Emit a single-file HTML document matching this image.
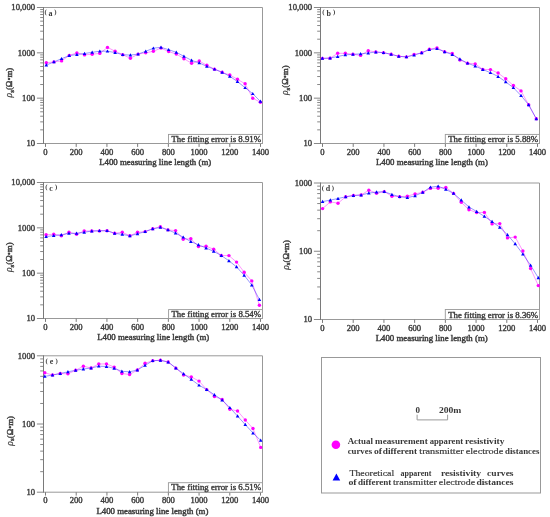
<!DOCTYPE html>
<html><head><meta charset="utf-8"><style>
html,body{margin:0;padding:0;background:#fff;}
svg{display:block;}
text{font-family:'Liberation Serif', 'Times New Roman', serif;fill:#3c3c3c;}
.tk{font-size:8.6px;stroke:#3c3c3c;stroke-width:0.4px;}
.ttl{font-size:8.8px;stroke:#3c3c3c;stroke-width:0.45px;}
.err{font-size:8.6px;fill:#3c3c3c;stroke:#3c3c3c;stroke-width:0.4px;}
.pl{font-size:6.8px;font-weight:bold;fill:#3a3a3a;}
.lg{font-size:9px;font-weight:bold;fill:#383838;}
.nw{font-weight:normal;fill:#3a3a3a;stroke:#3a3a3a;stroke-width:0.2px;}
</style></head><body>
<svg width="550" height="517" viewBox="0 0 550 517">
<rect width="550" height="517" fill="#fff"/>
<path d="M43.5 7.5H262.5V143.5H43.5" fill="none" stroke="#999999" stroke-width="1"/>
<path d="M43.5 7.0V144.0" fill="none" stroke="#7a7a7a" stroke-width="1"/>
<path d="M36.90 143.50H43.5 M40.20 129.85H43.5 M40.20 121.87H43.5 M40.20 116.21H43.5 M40.20 111.81H43.5 M40.20 108.22H43.5 M40.20 105.19H43.5 M40.20 102.56H43.5 M40.20 100.24H43.5 M36.90 98.17H43.5 M40.20 84.52H43.5 M40.20 76.54H43.5 M40.20 70.87H43.5 M40.20 66.48H43.5 M40.20 62.89H43.5 M40.20 59.86H43.5 M40.20 57.23H43.5 M40.20 54.91H43.5 M36.90 52.83H43.5 M40.20 39.19H43.5 M40.20 31.20H43.5 M40.20 25.54H43.5 M40.20 21.15H43.5 M40.20 17.56H43.5 M40.20 14.52H43.5 M40.20 11.89H43.5 M40.20 9.57H43.5 M36.90 7.50H43.5" stroke="#7a7a7a" stroke-width="0.9" fill="none"/>
<text x="35.00" y="146.30" text-anchor="end" class="tk">10</text>
<text x="35.00" y="100.97" text-anchor="end" class="tk">100</text>
<text x="35.00" y="55.63" text-anchor="end" class="tk">1000</text>
<text x="35.00" y="10.30" text-anchor="end" class="tk">10,000</text>
<text x="45.50" y="154.50" text-anchor="middle" class="tk">0</text>
<text x="76.21" y="154.50" text-anchor="middle" class="tk">200</text>
<text x="106.93" y="154.50" text-anchor="middle" class="tk">400</text>
<text x="137.64" y="154.50" text-anchor="middle" class="tk">600</text>
<text x="168.36" y="154.50" text-anchor="middle" class="tk">800</text>
<text x="199.07" y="154.50" text-anchor="middle" class="tk">1000</text>
<text x="229.79" y="154.50" text-anchor="middle" class="tk">1200</text>
<text x="260.50" y="154.50" text-anchor="middle" class="tk">1400</text>
<path d="M45.50 143.5V146.90 M76.21 143.5V146.90 M106.93 143.5V146.90 M137.64 143.5V146.90 M168.36 143.5V146.90 M199.07 143.5V146.90 M229.79 143.5V146.90 M260.50 143.5V146.90" stroke="#7a7a7a" stroke-width="1" fill="none"/>
<text x="155.20" y="165.10" text-anchor="middle" class="ttl" textLength="112" lengthAdjust="spacingAndGlyphs">L400 measuring line length (m)</text>
<text transform="translate(12.10,82.60) rotate(-90)" text-anchor="middle" class="ttl"><tspan font-size="9.6" font-style="italic" stroke-width="0.2">&#961;</tspan><tspan font-size="7" dy="1.7">s</tspan><tspan dy="-1.7" font-size="8.8">(&#937;&#8226;m)</tspan></text>
<text x="44.50" y="14.40" class="pl">(</text><text x="48.60" y="15.90" class="pl" style="font-size:8px">a</text><text x="54.30" y="14.40" class="pl">)</text>
<rect x="168.5" y="134.40" width="94.00" height="9.10" fill="#fff" stroke="#999999" stroke-width="0.9"/>
<text x="171.40" y="141.70" class="err" textLength="89.70" lengthAdjust="spacingAndGlyphs">The fitting error is 8.91%</text>
<polyline points="46.30,62.80 53.95,61.90 61.59,60.90 69.24,55.40 76.89,52.90 84.53,54.90 92.18,54.20 99.82,53.40 107.47,47.40 115.12,51.20 122.76,54.70 130.41,58.30 138.06,54.10 145.70,52.80 153.35,51.30 161.00,48.10 168.64,51.60 176.29,54.00 183.94,58.70 191.58,63.30 199.23,61.00 206.88,65.30 214.52,69.20 222.17,72.30 229.81,75.00 237.46,79.30 245.11,83.80 252.75,98.20 260.40,102.30" fill="none" stroke="#ff00ff" stroke-width="0.55" stroke-opacity="0.75"/>
<polyline points="46.30,65.10 53.95,61.90 61.59,58.70 69.24,55.60 76.89,54.50 84.53,53.50 92.18,52.30 99.82,51.20 107.47,51.20 115.12,52.60 122.76,54.70 130.41,55.10 138.06,54.10 145.70,51.30 153.35,48.20 161.00,47.30 168.64,49.70 176.29,52.30 183.94,56.30 191.58,60.40 199.23,62.90 206.88,66.40 214.52,69.20 222.17,72.30 229.81,76.30 237.46,81.60 245.11,87.70 252.75,93.70 260.40,101.40" fill="none" stroke="#0000ff" stroke-width="0.55" stroke-opacity="0.75"/>
<g fill="#ff00ff"><circle cx="46.30" cy="62.80" r="1.7"/><circle cx="53.95" cy="61.90" r="1.7"/><circle cx="61.59" cy="60.90" r="1.7"/><circle cx="69.24" cy="55.40" r="1.7"/><circle cx="76.89" cy="52.90" r="1.7"/><circle cx="84.53" cy="54.90" r="1.7"/><circle cx="92.18" cy="54.20" r="1.7"/><circle cx="99.82" cy="53.40" r="1.7"/><circle cx="107.47" cy="47.40" r="1.7"/><circle cx="115.12" cy="51.20" r="1.7"/><circle cx="122.76" cy="54.70" r="1.7"/><circle cx="130.41" cy="58.30" r="1.7"/><circle cx="138.06" cy="54.10" r="1.7"/><circle cx="145.70" cy="52.80" r="1.7"/><circle cx="153.35" cy="51.30" r="1.7"/><circle cx="161.00" cy="48.10" r="1.7"/><circle cx="168.64" cy="51.60" r="1.7"/><circle cx="176.29" cy="54.00" r="1.7"/><circle cx="183.94" cy="58.70" r="1.7"/><circle cx="191.58" cy="63.30" r="1.7"/><circle cx="199.23" cy="61.00" r="1.7"/><circle cx="206.88" cy="65.30" r="1.7"/><circle cx="214.52" cy="69.20" r="1.7"/><circle cx="222.17" cy="72.30" r="1.7"/><circle cx="229.81" cy="75.00" r="1.7"/><circle cx="237.46" cy="79.30" r="1.7"/><circle cx="245.11" cy="83.80" r="1.7"/><circle cx="252.75" cy="98.20" r="1.7"/><circle cx="260.40" cy="102.30" r="1.7"/></g>
<path d="M44.50 66.50L46.30 63.30L48.10 66.50Z M52.15 63.30L53.95 60.10L55.75 63.30Z M59.79 60.10L61.59 56.90L63.39 60.10Z M67.44 57.00L69.24 53.80L71.04 57.00Z M75.09 55.90L76.89 52.70L78.69 55.90Z M82.73 54.90L84.53 51.70L86.33 54.90Z M90.38 53.70L92.18 50.50L93.98 53.70Z M98.02 52.60L99.82 49.40L101.62 52.60Z M105.67 52.60L107.47 49.40L109.27 52.60Z M113.32 54.00L115.12 50.80L116.92 54.00Z M120.96 56.10L122.76 52.90L124.56 56.10Z M128.61 56.50L130.41 53.30L132.21 56.50Z M136.26 55.50L138.06 52.30L139.86 55.50Z M143.90 52.70L145.70 49.50L147.50 52.70Z M151.55 49.60L153.35 46.40L155.15 49.60Z M159.20 48.70L161.00 45.50L162.80 48.70Z M166.84 51.10L168.64 47.90L170.44 51.10Z M174.49 53.70L176.29 50.50L178.09 53.70Z M182.14 57.70L183.94 54.50L185.74 57.70Z M189.78 61.80L191.58 58.60L193.38 61.80Z M197.43 64.30L199.23 61.10L201.03 64.30Z M205.07 67.80L206.88 64.60L208.68 67.80Z M212.72 70.60L214.52 67.40L216.32 70.60Z M220.37 73.70L222.17 70.50L223.97 73.70Z M228.01 77.70L229.81 74.50L231.61 77.70Z M235.66 83.00L237.46 79.80L239.26 83.00Z M243.31 89.10L245.11 85.90L246.91 89.10Z M250.95 95.10L252.75 91.90L254.55 95.10Z M258.60 102.80L260.40 99.60L262.20 102.80Z" fill="#0000ff"/>
<path d="M320.5 7.5H539.5V143.5H320.5" fill="none" stroke="#999999" stroke-width="1"/>
<path d="M320.5 7.0V144.0" fill="none" stroke="#7a7a7a" stroke-width="1"/>
<path d="M313.90 143.50H320.5 M317.20 129.85H320.5 M317.20 121.87H320.5 M317.20 116.21H320.5 M317.20 111.81H320.5 M317.20 108.22H320.5 M317.20 105.19H320.5 M317.20 102.56H320.5 M317.20 100.24H320.5 M313.90 98.17H320.5 M317.20 84.52H320.5 M317.20 76.54H320.5 M317.20 70.87H320.5 M317.20 66.48H320.5 M317.20 62.89H320.5 M317.20 59.86H320.5 M317.20 57.23H320.5 M317.20 54.91H320.5 M313.90 52.83H320.5 M317.20 39.19H320.5 M317.20 31.20H320.5 M317.20 25.54H320.5 M317.20 21.15H320.5 M317.20 17.56H320.5 M317.20 14.52H320.5 M317.20 11.89H320.5 M317.20 9.57H320.5 M313.90 7.50H320.5" stroke="#7a7a7a" stroke-width="0.9" fill="none"/>
<text x="312.00" y="146.30" text-anchor="end" class="tk">10</text>
<text x="312.00" y="100.97" text-anchor="end" class="tk">100</text>
<text x="312.00" y="55.63" text-anchor="end" class="tk">1000</text>
<text x="312.00" y="10.30" text-anchor="end" class="tk">10,000</text>
<text x="322.50" y="154.50" text-anchor="middle" class="tk">0</text>
<text x="353.21" y="154.50" text-anchor="middle" class="tk">200</text>
<text x="383.93" y="154.50" text-anchor="middle" class="tk">400</text>
<text x="414.64" y="154.50" text-anchor="middle" class="tk">600</text>
<text x="445.36" y="154.50" text-anchor="middle" class="tk">800</text>
<text x="476.07" y="154.50" text-anchor="middle" class="tk">1000</text>
<text x="506.79" y="154.50" text-anchor="middle" class="tk">1200</text>
<text x="537.50" y="154.50" text-anchor="middle" class="tk">1400</text>
<path d="M322.50 143.5V146.90 M353.21 143.5V146.90 M383.93 143.5V146.90 M414.64 143.5V146.90 M445.36 143.5V146.90 M476.07 143.5V146.90 M506.79 143.5V146.90 M537.50 143.5V146.90" stroke="#7a7a7a" stroke-width="1" fill="none"/>
<text x="431.90" y="165.10" text-anchor="middle" class="ttl" textLength="112" lengthAdjust="spacingAndGlyphs">L400 measuring line length (m)</text>
<text transform="translate(287.90,80.20) rotate(-90)" text-anchor="middle" class="ttl"><tspan font-size="9.6" font-style="italic" stroke-width="0.2">&#961;</tspan><tspan font-size="7" dy="1.7">s</tspan><tspan dy="-1.7" font-size="8.8">(&#937;&#8226;m)</tspan></text>
<text x="322.30" y="14.40" class="pl">(</text><text x="326.60" y="15.90" class="pl" style="font-size:8px">b</text><text x="333.10" y="14.40" class="pl">)</text>
<rect x="445.3" y="134.40" width="94.20" height="9.10" fill="#fff" stroke="#999999" stroke-width="0.9"/>
<text x="448.20" y="141.70" class="err" textLength="89.90" lengthAdjust="spacingAndGlyphs">The fitting error is 5.88%</text>
<polyline points="322.40,58.40 330.04,58.30 337.68,53.30 345.32,53.30 352.96,54.30 360.60,55.40 368.24,50.70 375.87,52.00 383.51,52.70 391.15,54.30 398.79,56.30 406.43,56.90 414.07,54.50 421.71,52.80 429.35,49.20 436.99,47.90 444.63,51.80 452.27,53.40 459.91,60.10 467.55,63.20 475.19,63.90 482.82,69.40 490.46,69.60 498.10,73.00 505.74,78.80 513.38,85.50 521.02,90.90 528.66,104.80 536.30,118.80" fill="none" stroke="#ff00ff" stroke-width="0.55" stroke-opacity="0.75"/>
<polyline points="322.40,58.40 330.04,58.00 337.68,56.50 345.32,54.90 352.96,54.30 360.60,53.90 368.24,53.00 375.87,52.00 383.51,52.70 391.15,54.30 398.79,56.30 406.43,56.90 414.07,55.10 421.71,52.80 429.35,49.60 436.99,48.70 444.63,51.80 452.27,54.60 459.91,59.10 467.55,63.20 475.19,66.10 482.82,69.50 490.46,72.70 498.10,76.50 505.74,81.90 513.38,87.70 521.02,95.60 528.66,104.80 536.30,118.80" fill="none" stroke="#0000ff" stroke-width="0.55" stroke-opacity="0.75"/>
<g fill="#ff00ff"><circle cx="322.40" cy="58.40" r="1.7"/><circle cx="330.04" cy="58.30" r="1.7"/><circle cx="337.68" cy="53.30" r="1.7"/><circle cx="345.32" cy="53.30" r="1.7"/><circle cx="352.96" cy="54.30" r="1.7"/><circle cx="360.60" cy="55.40" r="1.7"/><circle cx="368.24" cy="50.70" r="1.7"/><circle cx="375.87" cy="52.00" r="1.7"/><circle cx="383.51" cy="52.70" r="1.7"/><circle cx="391.15" cy="54.30" r="1.7"/><circle cx="398.79" cy="56.30" r="1.7"/><circle cx="406.43" cy="56.90" r="1.7"/><circle cx="414.07" cy="54.50" r="1.7"/><circle cx="421.71" cy="52.80" r="1.7"/><circle cx="429.35" cy="49.20" r="1.7"/><circle cx="436.99" cy="47.90" r="1.7"/><circle cx="444.63" cy="51.80" r="1.7"/><circle cx="452.27" cy="53.40" r="1.7"/><circle cx="459.91" cy="60.10" r="1.7"/><circle cx="467.55" cy="63.20" r="1.7"/><circle cx="475.19" cy="63.90" r="1.7"/><circle cx="482.82" cy="69.40" r="1.7"/><circle cx="490.46" cy="69.60" r="1.7"/><circle cx="498.10" cy="73.00" r="1.7"/><circle cx="505.74" cy="78.80" r="1.7"/><circle cx="513.38" cy="85.50" r="1.7"/><circle cx="521.02" cy="90.90" r="1.7"/><circle cx="528.66" cy="104.80" r="1.7"/><circle cx="536.30" cy="118.80" r="1.7"/></g>
<path d="M320.60 59.80L322.40 56.60L324.20 59.80Z M328.24 59.40L330.04 56.20L331.84 59.40Z M335.88 57.90L337.68 54.70L339.48 57.90Z M343.52 56.30L345.32 53.10L347.12 56.30Z M351.16 55.70L352.96 52.50L354.76 55.70Z M358.80 55.30L360.60 52.10L362.40 55.30Z M366.44 54.40L368.24 51.20L370.04 54.40Z M374.07 53.40L375.87 50.20L377.67 53.40Z M381.71 54.10L383.51 50.90L385.31 54.10Z M389.35 55.70L391.15 52.50L392.95 55.70Z M396.99 57.70L398.79 54.50L400.59 57.70Z M404.63 58.30L406.43 55.10L408.23 58.30Z M412.27 56.50L414.07 53.30L415.87 56.50Z M419.91 54.20L421.71 51.00L423.51 54.20Z M427.55 51.00L429.35 47.80L431.15 51.00Z M435.19 50.10L436.99 46.90L438.79 50.10Z M442.83 53.20L444.63 50.00L446.43 53.20Z M450.47 56.00L452.27 52.80L454.07 56.00Z M458.11 60.50L459.91 57.30L461.71 60.50Z M465.75 64.60L467.55 61.40L469.35 64.60Z M473.39 67.50L475.19 64.30L476.99 67.50Z M481.02 70.90L482.82 67.70L484.62 70.90Z M488.66 74.10L490.46 70.90L492.26 74.10Z M496.30 77.90L498.10 74.70L499.90 77.90Z M503.94 83.30L505.74 80.10L507.54 83.30Z M511.58 89.10L513.38 85.90L515.18 89.10Z M519.22 97.00L521.02 93.80L522.82 97.00Z M526.86 106.20L528.66 103.00L530.46 106.20Z M534.50 120.20L536.30 117.00L538.10 120.20Z" fill="#0000ff"/>
<path d="M43.5 182.5H262.5V318.5H43.5" fill="none" stroke="#999999" stroke-width="1"/>
<path d="M43.5 182.0V319.0" fill="none" stroke="#7a7a7a" stroke-width="1"/>
<path d="M36.90 318.50H43.5 M40.20 304.85H43.5 M40.20 296.87H43.5 M40.20 291.21H43.5 M40.20 286.81H43.5 M40.20 283.22H43.5 M40.20 280.19H43.5 M40.20 277.56H43.5 M40.20 275.24H43.5 M36.90 273.17H43.5 M40.20 259.52H43.5 M40.20 251.54H43.5 M40.20 245.87H43.5 M40.20 241.48H43.5 M40.20 237.89H43.5 M40.20 234.86H43.5 M40.20 232.23H43.5 M40.20 229.91H43.5 M36.90 227.83H43.5 M40.20 214.19H43.5 M40.20 206.20H43.5 M40.20 200.54H43.5 M40.20 196.15H43.5 M40.20 192.56H43.5 M40.20 189.52H43.5 M40.20 186.89H43.5 M40.20 184.57H43.5 M36.90 182.50H43.5" stroke="#7a7a7a" stroke-width="0.9" fill="none"/>
<text x="35.00" y="321.30" text-anchor="end" class="tk">10</text>
<text x="35.00" y="275.97" text-anchor="end" class="tk">100</text>
<text x="35.00" y="230.63" text-anchor="end" class="tk">1000</text>
<text x="35.00" y="185.30" text-anchor="end" class="tk">10,000</text>
<text x="45.50" y="329.50" text-anchor="middle" class="tk">0</text>
<text x="76.21" y="329.50" text-anchor="middle" class="tk">200</text>
<text x="106.93" y="329.50" text-anchor="middle" class="tk">400</text>
<text x="137.64" y="329.50" text-anchor="middle" class="tk">600</text>
<text x="168.36" y="329.50" text-anchor="middle" class="tk">800</text>
<text x="199.07" y="329.50" text-anchor="middle" class="tk">1000</text>
<text x="229.79" y="329.50" text-anchor="middle" class="tk">1200</text>
<text x="260.50" y="329.50" text-anchor="middle" class="tk">1400</text>
<path d="M45.50 318.5V321.90 M76.21 318.5V321.90 M106.93 318.5V321.90 M137.64 318.5V321.90 M168.36 318.5V321.90 M199.07 318.5V321.90 M229.79 318.5V321.90 M260.50 318.5V321.90" stroke="#7a7a7a" stroke-width="1" fill="none"/>
<text x="153.20" y="340.10" text-anchor="middle" class="ttl" textLength="112" lengthAdjust="spacingAndGlyphs">L400 measuring line length (m)</text>
<text transform="translate(11.90,257.20) rotate(-90)" text-anchor="middle" class="ttl"><tspan font-size="9.6" font-style="italic" stroke-width="0.2">&#961;</tspan><tspan font-size="7" dy="1.7">s</tspan><tspan dy="-1.7" font-size="8.8">(&#937;&#8226;m)</tspan></text>
<text x="45.20" y="189.40" class="pl">(</text><text x="49.20" y="190.90" class="pl" style="font-size:8px">c</text><text x="55.10" y="189.40" class="pl">)</text>
<rect x="168.6" y="309.60" width="93.90" height="8.90" fill="#fff" stroke="#999999" stroke-width="0.9"/>
<text x="171.50" y="316.70" class="err" textLength="89.60" lengthAdjust="spacingAndGlyphs">The fitting error is 8.54%</text>
<polyline points="46.10,234.80 53.72,234.20 61.34,235.80 68.95,232.30 76.57,234.20 84.19,231.00 91.81,231.00 99.42,231.00 107.04,230.70 114.66,233.30 122.28,232.30 129.90,235.80 137.51,232.30 145.13,231.60 152.75,228.80 160.37,226.70 167.99,229.90 175.60,230.60 183.22,239.30 190.84,238.70 198.46,246.50 206.07,246.20 213.69,249.30 221.31,255.50 228.93,255.60 236.55,262.10 244.16,272.20 251.78,280.90 259.40,305.30" fill="none" stroke="#ff00ff" stroke-width="0.55" stroke-opacity="0.75"/>
<polyline points="46.10,236.70 53.72,235.50 61.34,234.80 68.95,233.30 76.57,233.30 84.19,232.30 91.81,231.00 99.42,230.70 107.04,230.70 114.66,233.30 122.28,234.40 129.90,235.80 137.51,233.80 145.13,231.60 152.75,228.80 160.37,227.40 167.99,229.90 175.60,233.10 183.22,237.20 190.84,241.60 198.46,244.80 206.07,248.00 213.69,251.40 221.31,255.50 228.93,260.80 236.55,266.90 244.16,275.30 251.78,285.00 259.40,299.50" fill="none" stroke="#0000ff" stroke-width="0.55" stroke-opacity="0.75"/>
<g fill="#ff00ff"><circle cx="46.10" cy="234.80" r="1.7"/><circle cx="53.72" cy="234.20" r="1.7"/><circle cx="61.34" cy="235.80" r="1.7"/><circle cx="68.95" cy="232.30" r="1.7"/><circle cx="76.57" cy="234.20" r="1.7"/><circle cx="84.19" cy="231.00" r="1.7"/><circle cx="91.81" cy="231.00" r="1.7"/><circle cx="99.42" cy="231.00" r="1.7"/><circle cx="107.04" cy="230.70" r="1.7"/><circle cx="114.66" cy="233.30" r="1.7"/><circle cx="122.28" cy="232.30" r="1.7"/><circle cx="129.90" cy="235.80" r="1.7"/><circle cx="137.51" cy="232.30" r="1.7"/><circle cx="145.13" cy="231.60" r="1.7"/><circle cx="152.75" cy="228.80" r="1.7"/><circle cx="160.37" cy="226.70" r="1.7"/><circle cx="167.99" cy="229.90" r="1.7"/><circle cx="175.60" cy="230.60" r="1.7"/><circle cx="183.22" cy="239.30" r="1.7"/><circle cx="190.84" cy="238.70" r="1.7"/><circle cx="198.46" cy="246.50" r="1.7"/><circle cx="206.07" cy="246.20" r="1.7"/><circle cx="213.69" cy="249.30" r="1.7"/><circle cx="221.31" cy="255.50" r="1.7"/><circle cx="228.93" cy="255.60" r="1.7"/><circle cx="236.55" cy="262.10" r="1.7"/><circle cx="244.16" cy="272.20" r="1.7"/><circle cx="251.78" cy="280.90" r="1.7"/><circle cx="259.40" cy="305.30" r="1.7"/></g>
<path d="M44.30 238.10L46.10 234.90L47.90 238.10Z M51.92 236.90L53.72 233.70L55.52 236.90Z M59.54 236.20L61.34 233.00L63.14 236.20Z M67.15 234.70L68.95 231.50L70.75 234.70Z M74.77 234.70L76.57 231.50L78.37 234.70Z M82.39 233.70L84.19 230.50L85.99 233.70Z M90.01 232.40L91.81 229.20L93.61 232.40Z M97.62 232.10L99.42 228.90L101.22 232.10Z M105.24 232.10L107.04 228.90L108.84 232.10Z M112.86 234.70L114.66 231.50L116.46 234.70Z M120.48 235.80L122.28 232.60L124.08 235.80Z M128.10 237.20L129.90 234.00L131.70 237.20Z M135.71 235.20L137.51 232.00L139.31 235.20Z M143.33 233.00L145.13 229.80L146.93 233.00Z M150.95 230.20L152.75 227.00L154.55 230.20Z M158.57 228.80L160.37 225.60L162.17 228.80Z M166.19 231.30L167.99 228.10L169.79 231.30Z M173.80 234.50L175.60 231.30L177.40 234.50Z M181.42 238.60L183.22 235.40L185.02 238.60Z M189.04 243.00L190.84 239.80L192.64 243.00Z M196.66 246.20L198.46 243.00L200.26 246.20Z M204.27 249.40L206.07 246.20L207.87 249.40Z M211.89 252.80L213.69 249.60L215.49 252.80Z M219.51 256.90L221.31 253.70L223.11 256.90Z M227.13 262.20L228.93 259.00L230.73 262.20Z M234.75 268.30L236.55 265.10L238.35 268.30Z M242.36 276.70L244.16 273.50L245.96 276.70Z M249.98 286.40L251.78 283.20L253.58 286.40Z M257.60 300.90L259.40 297.70L261.20 300.90Z" fill="#0000ff"/>
<path d="M320.5 183.0H539.5V319.5H320.5" fill="none" stroke="#999999" stroke-width="1"/>
<path d="M320.5 182.5V320.0" fill="none" stroke="#7a7a7a" stroke-width="1"/>
<path d="M313.90 319.50H320.5 M317.20 298.95H320.5 M317.20 286.94H320.5 M317.20 278.41H320.5 M317.20 271.80H320.5 M317.20 266.39H320.5 M317.20 261.82H320.5 M317.20 257.86H320.5 M317.20 254.37H320.5 M313.90 251.25H320.5 M317.20 230.70H320.5 M317.20 218.69H320.5 M317.20 210.16H320.5 M317.20 203.55H320.5 M317.20 198.14H320.5 M317.20 193.57H320.5 M317.20 189.61H320.5 M317.20 186.12H320.5 M313.90 183.00H320.5" stroke="#7a7a7a" stroke-width="0.9" fill="none"/>
<text x="312.00" y="322.30" text-anchor="end" class="tk">10</text>
<text x="312.00" y="254.05" text-anchor="end" class="tk">100</text>
<text x="312.00" y="185.80" text-anchor="end" class="tk">1000</text>
<text x="322.50" y="330.50" text-anchor="middle" class="tk">0</text>
<text x="353.21" y="330.50" text-anchor="middle" class="tk">200</text>
<text x="383.93" y="330.50" text-anchor="middle" class="tk">400</text>
<text x="414.64" y="330.50" text-anchor="middle" class="tk">600</text>
<text x="445.36" y="330.50" text-anchor="middle" class="tk">800</text>
<text x="476.07" y="330.50" text-anchor="middle" class="tk">1000</text>
<text x="506.79" y="330.50" text-anchor="middle" class="tk">1200</text>
<text x="537.50" y="330.50" text-anchor="middle" class="tk">1400</text>
<path d="M322.50 319.5V322.90 M353.21 319.5V322.90 M383.93 319.5V322.90 M414.64 319.5V322.90 M445.36 319.5V322.90 M476.07 319.5V322.90 M506.79 319.5V322.90 M537.50 319.5V322.90" stroke="#7a7a7a" stroke-width="1" fill="none"/>
<text x="431.70" y="341.10" text-anchor="middle" class="ttl" textLength="112" lengthAdjust="spacingAndGlyphs">L400 measuring line length (m)</text>
<text transform="translate(288.60,255.00) rotate(-90)" text-anchor="middle" class="ttl"><tspan font-size="9.6" font-style="italic" stroke-width="0.2">&#961;</tspan><tspan font-size="7" dy="1.7">s</tspan><tspan dy="-1.7" font-size="8.8">(&#937;&#8226;m)</tspan></text>
<text x="321.80" y="189.90" class="pl">(</text><text x="325.80" y="191.40" class="pl" style="font-size:8px">d</text><text x="331.70" y="189.90" class="pl">)</text>
<rect x="445.3" y="309.50" width="94.20" height="10.00" fill="#fff" stroke="#999999" stroke-width="0.9"/>
<text x="448.20" y="317.70" class="err" textLength="89.90" lengthAdjust="spacingAndGlyphs">The fitting error is 8.36%</text>
<polyline points="322.60,208.60 330.30,201.90 338.01,203.20 345.71,196.80 353.41,195.50 361.12,195.00 368.82,190.20 376.53,193.20 384.23,191.60 391.93,196.20 399.64,196.70 407.34,196.20 415.04,193.90 422.75,192.30 430.45,188.40 438.15,188.20 445.86,187.40 453.56,193.40 461.26,202.30 468.97,209.70 476.67,212.60 484.38,212.40 492.08,223.90 499.78,223.60 507.49,237.90 515.19,237.10 522.89,251.00 530.60,268.50 538.30,285.60" fill="none" stroke="#ff00ff" stroke-width="0.55" stroke-opacity="0.75"/>
<polyline points="322.60,201.60 330.30,200.10 338.01,198.50 345.71,196.80 353.41,195.50 361.12,195.00 368.82,193.10 376.53,192.10 384.23,191.60 391.93,194.50 399.64,196.70 407.34,197.70 415.04,195.80 422.75,192.30 430.45,187.20 438.15,186.20 445.86,189.40 453.56,193.40 461.26,200.10 468.97,207.00 476.67,211.50 484.38,216.40 492.08,221.50 499.78,227.30 507.49,234.80 515.19,243.80 522.89,254.10 530.60,265.30 538.30,277.80" fill="none" stroke="#0000ff" stroke-width="0.55" stroke-opacity="0.75"/>
<g fill="#ff00ff"><circle cx="322.60" cy="208.60" r="1.7"/><circle cx="330.30" cy="201.90" r="1.7"/><circle cx="338.01" cy="203.20" r="1.7"/><circle cx="345.71" cy="196.80" r="1.7"/><circle cx="353.41" cy="195.50" r="1.7"/><circle cx="361.12" cy="195.00" r="1.7"/><circle cx="368.82" cy="190.20" r="1.7"/><circle cx="376.53" cy="193.20" r="1.7"/><circle cx="384.23" cy="191.60" r="1.7"/><circle cx="391.93" cy="196.20" r="1.7"/><circle cx="399.64" cy="196.70" r="1.7"/><circle cx="407.34" cy="196.20" r="1.7"/><circle cx="415.04" cy="193.90" r="1.7"/><circle cx="422.75" cy="192.30" r="1.7"/><circle cx="430.45" cy="188.40" r="1.7"/><circle cx="438.15" cy="188.20" r="1.7"/><circle cx="445.86" cy="187.40" r="1.7"/><circle cx="453.56" cy="193.40" r="1.7"/><circle cx="461.26" cy="202.30" r="1.7"/><circle cx="468.97" cy="209.70" r="1.7"/><circle cx="476.67" cy="212.60" r="1.7"/><circle cx="484.38" cy="212.40" r="1.7"/><circle cx="492.08" cy="223.90" r="1.7"/><circle cx="499.78" cy="223.60" r="1.7"/><circle cx="507.49" cy="237.90" r="1.7"/><circle cx="515.19" cy="237.10" r="1.7"/><circle cx="522.89" cy="251.00" r="1.7"/><circle cx="530.60" cy="268.50" r="1.7"/><circle cx="538.30" cy="285.60" r="1.7"/></g>
<path d="M320.80 203.00L322.60 199.80L324.40 203.00Z M328.50 201.50L330.30 198.30L332.10 201.50Z M336.21 199.90L338.01 196.70L339.81 199.90Z M343.91 198.20L345.71 195.00L347.51 198.20Z M351.61 196.90L353.41 193.70L355.21 196.90Z M359.32 196.40L361.12 193.20L362.92 196.40Z M367.02 194.50L368.82 191.30L370.62 194.50Z M374.73 193.50L376.53 190.30L378.33 193.50Z M382.43 193.00L384.23 189.80L386.03 193.00Z M390.13 195.90L391.93 192.70L393.73 195.90Z M397.84 198.10L399.64 194.90L401.44 198.10Z M405.54 199.10L407.34 195.90L409.14 199.10Z M413.24 197.20L415.04 194.00L416.84 197.20Z M420.95 193.70L422.75 190.50L424.55 193.70Z M428.65 188.60L430.45 185.40L432.25 188.60Z M436.35 187.60L438.15 184.40L439.95 187.60Z M444.06 190.80L445.86 187.60L447.66 190.80Z M451.76 194.80L453.56 191.60L455.36 194.80Z M459.46 201.50L461.26 198.30L463.06 201.50Z M467.17 208.40L468.97 205.20L470.77 208.40Z M474.87 212.90L476.67 209.70L478.47 212.90Z M482.57 217.80L484.38 214.60L486.18 217.80Z M490.28 222.90L492.08 219.70L493.88 222.90Z M497.98 228.70L499.78 225.50L501.58 228.70Z M505.69 236.20L507.49 233.00L509.29 236.20Z M513.39 245.20L515.19 242.00L516.99 245.20Z M521.09 255.50L522.89 252.30L524.69 255.50Z M528.80 266.70L530.60 263.50L532.40 266.70Z M536.50 279.20L538.30 276.00L540.10 279.20Z" fill="#0000ff"/>
<path d="M43.5 355.8H262.5V492.2H43.5" fill="none" stroke="#999999" stroke-width="1"/>
<path d="M43.5 355.3V492.7" fill="none" stroke="#7a7a7a" stroke-width="1"/>
<path d="M36.90 492.20H43.5 M40.20 471.67H43.5 M40.20 459.66H43.5 M40.20 451.14H43.5 M40.20 444.53H43.5 M40.20 439.13H43.5 M40.20 434.56H43.5 M40.20 430.61H43.5 M40.20 427.12H43.5 M36.90 424.00H43.5 M40.20 403.47H43.5 M40.20 391.46H43.5 M40.20 382.94H43.5 M40.20 376.33H43.5 M40.20 370.93H43.5 M40.20 366.36H43.5 M40.20 362.41H43.5 M40.20 358.92H43.5 M36.90 355.80H43.5" stroke="#7a7a7a" stroke-width="0.9" fill="none"/>
<text x="35.00" y="495.00" text-anchor="end" class="tk">10</text>
<text x="35.00" y="426.80" text-anchor="end" class="tk">100</text>
<text x="35.00" y="358.60" text-anchor="end" class="tk">1000</text>
<text x="45.50" y="503.20" text-anchor="middle" class="tk">0</text>
<text x="76.21" y="503.20" text-anchor="middle" class="tk">200</text>
<text x="106.93" y="503.20" text-anchor="middle" class="tk">400</text>
<text x="137.64" y="503.20" text-anchor="middle" class="tk">600</text>
<text x="168.36" y="503.20" text-anchor="middle" class="tk">800</text>
<text x="199.07" y="503.20" text-anchor="middle" class="tk">1000</text>
<text x="229.79" y="503.20" text-anchor="middle" class="tk">1200</text>
<text x="260.50" y="503.20" text-anchor="middle" class="tk">1400</text>
<path d="M45.50 492.2V495.60 M76.21 492.2V495.60 M106.93 492.2V495.60 M137.64 492.2V495.60 M168.36 492.2V495.60 M199.07 492.2V495.60 M229.79 492.2V495.60 M260.50 492.2V495.60" stroke="#7a7a7a" stroke-width="1" fill="none"/>
<text x="152.40" y="513.80" text-anchor="middle" class="ttl" textLength="112" lengthAdjust="spacingAndGlyphs">L400 measuring line length (m)</text>
<text transform="translate(12.50,430.80) rotate(-90)" text-anchor="middle" class="ttl"><tspan font-size="9.6" font-style="italic" stroke-width="0.2">&#961;</tspan><tspan font-size="7" dy="1.7">s</tspan><tspan dy="-1.7" font-size="8.8">(&#937;&#8226;m)</tspan></text>
<text x="45.40" y="362.70" class="pl">(</text><text x="49.70" y="364.20" class="pl" style="font-size:8px">e</text><text x="55.60" y="362.70" class="pl">)</text>
<rect x="168.4" y="482.70" width="94.10" height="9.50" fill="#fff" stroke="#999999" stroke-width="0.9"/>
<text x="171.30" y="490.40" class="err" textLength="89.80" lengthAdjust="spacingAndGlyphs">The fitting error is 6.51%</text>
<polyline points="44.80,372.80 52.51,375.00 60.22,373.50 67.93,373.80 75.64,370.30 83.35,366.20 91.06,368.00 98.77,364.00 106.49,363.90 114.20,367.10 121.91,373.50 129.62,374.50 137.33,370.00 145.04,363.30 152.75,360.70 160.46,360.30 168.17,362.00 175.88,368.10 183.59,375.00 191.30,376.90 199.01,381.10 206.72,389.60 214.44,396.50 222.15,399.50 229.86,409.30 237.57,411.00 245.28,420.00 252.99,428.50 260.70,447.40" fill="none" stroke="#ff00ff" stroke-width="0.55" stroke-opacity="0.75"/>
<polyline points="44.80,376.40 52.51,375.00 60.22,373.50 67.93,371.80 75.64,370.30 83.35,369.00 91.06,368.00 98.77,366.20 106.49,366.50 114.20,368.40 121.91,371.30 129.62,371.80 137.33,370.00 145.04,365.40 152.75,360.70 160.46,360.30 168.17,362.00 175.88,368.10 183.59,373.80 191.30,379.40 199.01,385.20 206.72,389.60 214.44,394.80 222.15,400.00 229.86,407.70 237.57,416.10 245.28,424.60 252.99,433.00 260.70,440.40" fill="none" stroke="#0000ff" stroke-width="0.55" stroke-opacity="0.75"/>
<g fill="#ff00ff"><circle cx="44.80" cy="372.80" r="1.7"/><circle cx="52.51" cy="375.00" r="1.7"/><circle cx="60.22" cy="373.50" r="1.7"/><circle cx="67.93" cy="373.80" r="1.7"/><circle cx="75.64" cy="370.30" r="1.7"/><circle cx="83.35" cy="366.20" r="1.7"/><circle cx="91.06" cy="368.00" r="1.7"/><circle cx="98.77" cy="364.00" r="1.7"/><circle cx="106.49" cy="363.90" r="1.7"/><circle cx="114.20" cy="367.10" r="1.7"/><circle cx="121.91" cy="373.50" r="1.7"/><circle cx="129.62" cy="374.50" r="1.7"/><circle cx="137.33" cy="370.00" r="1.7"/><circle cx="145.04" cy="363.30" r="1.7"/><circle cx="152.75" cy="360.70" r="1.7"/><circle cx="160.46" cy="360.30" r="1.7"/><circle cx="168.17" cy="362.00" r="1.7"/><circle cx="175.88" cy="368.10" r="1.7"/><circle cx="183.59" cy="375.00" r="1.7"/><circle cx="191.30" cy="376.90" r="1.7"/><circle cx="199.01" cy="381.10" r="1.7"/><circle cx="206.72" cy="389.60" r="1.7"/><circle cx="214.44" cy="396.50" r="1.7"/><circle cx="222.15" cy="399.50" r="1.7"/><circle cx="229.86" cy="409.30" r="1.7"/><circle cx="237.57" cy="411.00" r="1.7"/><circle cx="245.28" cy="420.00" r="1.7"/><circle cx="252.99" cy="428.50" r="1.7"/><circle cx="260.70" cy="447.40" r="1.7"/></g>
<path d="M43.00 377.80L44.80 374.60L46.60 377.80Z M50.71 376.40L52.51 373.20L54.31 376.40Z M58.42 374.90L60.22 371.70L62.02 374.90Z M66.13 373.20L67.93 370.00L69.73 373.20Z M73.84 371.70L75.64 368.50L77.44 371.70Z M81.55 370.40L83.35 367.20L85.15 370.40Z M89.26 369.40L91.06 366.20L92.86 369.40Z M96.97 367.60L98.77 364.40L100.57 367.60Z M104.69 367.90L106.49 364.70L108.29 367.90Z M112.40 369.80L114.20 366.60L116.00 369.80Z M120.11 372.70L121.91 369.50L123.71 372.70Z M127.82 373.20L129.62 370.00L131.42 373.20Z M135.53 371.40L137.33 368.20L139.13 371.40Z M143.24 366.80L145.04 363.60L146.84 366.80Z M150.95 362.10L152.75 358.90L154.55 362.10Z M158.66 361.70L160.46 358.50L162.26 361.70Z M166.37 363.40L168.17 360.20L169.97 363.40Z M174.08 369.50L175.88 366.30L177.68 369.50Z M181.79 375.20L183.59 372.00L185.39 375.20Z M189.50 380.80L191.30 377.60L193.10 380.80Z M197.21 386.60L199.01 383.40L200.81 386.60Z M204.92 391.00L206.72 387.80L208.52 391.00Z M212.64 396.20L214.44 393.00L216.24 396.20Z M220.35 401.40L222.15 398.20L223.95 401.40Z M228.06 409.10L229.86 405.90L231.66 409.10Z M235.77 417.50L237.57 414.30L239.37 417.50Z M243.48 426.00L245.28 422.80L247.08 426.00Z M251.19 434.40L252.99 431.20L254.79 434.40Z M258.90 441.80L260.70 438.60L262.50 441.80Z" fill="#0000ff"/>
<rect x="321.5" y="357.5" width="219" height="135.5" fill="none" stroke="#999999" stroke-width="1"/>
<text x="417.8" y="412.8" text-anchor="middle" class="lg">0</text>
<text x="438.9" y="412.8" class="lg" textLength="22.4" lengthAdjust="spacingAndGlyphs">200m</text>
<path d="M417.1 414.7V419.9H447.6V414.7" fill="none" stroke="#999999" stroke-width="1"/>
<circle cx="335.9" cy="444.8" r="4.3" fill="#ff00ff"/>
<path d="M332.6 480.6L336.4 473.6L340.2 480.6Z" fill="#0000ff"/>
<text x="347.70" y="444.3" class="lg" textLength="25.20" lengthAdjust="spacingAndGlyphs">Actual</text>
<text x="375.10" y="444.3" class="lg" textLength="52.60" lengthAdjust="spacingAndGlyphs">measurement</text>
<text x="429.70" y="444.3" class="lg" textLength="33.40" lengthAdjust="spacingAndGlyphs">apparent</text>
<text x="464.90" y="444.3" class="lg" textLength="39.60" lengthAdjust="spacingAndGlyphs">resistivity</text>
<text x="347.70" y="453.5" class="lg" textLength="24.40" lengthAdjust="spacingAndGlyphs">curves</text>
<text x="373.90" y="453.5" class="lg" textLength="8.00" lengthAdjust="spacingAndGlyphs">of</text>
<text x="382.80" y="453.5" class="lg" textLength="34.30" lengthAdjust="spacingAndGlyphs">different</text>
<text x="419.30" y="453.5" class="lg nw" textLength="44.30" lengthAdjust="spacingAndGlyphs">transmitter</text>
<text x="465.70" y="453.5" class="lg nw" textLength="37.60" lengthAdjust="spacingAndGlyphs">electrode</text>
<text x="505.00" y="453.5" class="lg" textLength="34.40" lengthAdjust="spacingAndGlyphs">distances</text>
<text x="349.40" y="475.5" class="lg nw" textLength="44.80" lengthAdjust="spacingAndGlyphs">Theoretical</text>
<text x="400.50" y="475.5" class="lg" textLength="30.90" lengthAdjust="spacingAndGlyphs">apparent</text>
<text x="440.90" y="475.5" class="lg" textLength="40.30" lengthAdjust="spacingAndGlyphs">resistivity</text>
<text x="487.10" y="475.5" class="lg" textLength="26.50" lengthAdjust="spacingAndGlyphs">curves</text>
<text x="348.40" y="484.5" class="lg" textLength="8.20" lengthAdjust="spacingAndGlyphs">of</text>
<text x="357.90" y="484.5" class="lg" textLength="33.50" lengthAdjust="spacingAndGlyphs">different</text>
<text x="393.00" y="484.5" class="lg nw" textLength="43.90" lengthAdjust="spacingAndGlyphs">transmitter</text>
<text x="438.80" y="484.5" class="lg nw" textLength="36.30" lengthAdjust="spacingAndGlyphs">electrode</text>
<text x="476.40" y="484.5" class="lg" textLength="37.20" lengthAdjust="spacingAndGlyphs">distances</text>
</svg>
</body></html>
